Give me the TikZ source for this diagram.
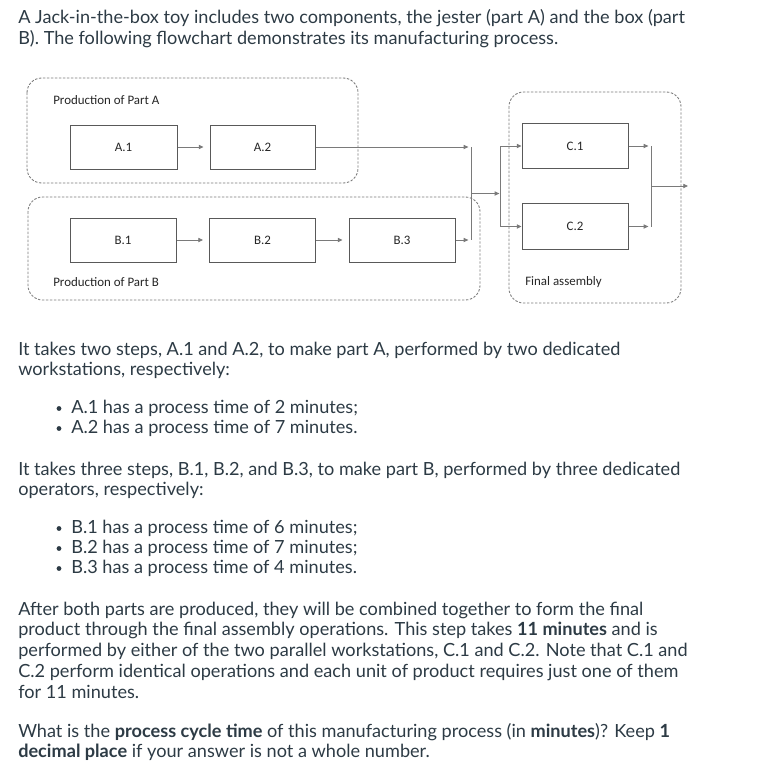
\documentclass[tikz,border=0pt]{standalone}
\usepackage{fontspec}
\setmainfont{Lato}
\newfontfamily\diagfont{Carlito}
\usetikzlibrary{arrows.meta}
\definecolor{txt}{HTML}{2D3B45}
\definecolor{boxline}{HTML}{595959}
\definecolor{conn}{HTML}{7A7A7A}
\definecolor{dtxt}{HTML}{262626}
\begin{document}
\begin{tikzpicture}[x=0.75pt,y=-0.75pt,
  para/.style={anchor=base west,inner sep=0pt,text=txt,font=\fontsize{13.6pt}{16pt}\selectfont},
  bul/.style={circle,fill=txt,inner sep=0pt,minimum size=3.6pt},
  proc/.style={draw=boxline,line width=0.75pt,fill=white,minimum width=79.5pt,minimum height=33pt,inner sep=0pt,font=\diagfont\fontsize{9.7pt}{11pt}\selectfont,text=dtxt},
  grp/.style={draw=conn,line width=0.65pt,dash pattern=on 1.8pt off 1.2pt,rounded corners=11pt},
  glabel/.style={anchor=west,inner sep=0pt,font=\diagfont\fontsize{9.7pt}{11pt}\selectfont,text=dtxt},
  link/.style={draw=conn,line width=0.6pt},
  arr/.style={link,-{Triangle[length=3.5pt,width=3.2pt]}}
]
\useasboundingbox (0,0) rectangle (781,774);
\fill[white] (0,0) rectangle (781,774);

% intro text
\node[para] (t1) at (18,24) {A Jack-in-the-box toy includes two components, the jester (part A) and the box (part};
\node[para] (t2) at (18,45) {B). The following flowchart demonstrates its manufacturing process.};

% groups
\draw[grp] (27,78) rectangle (358,183);
\draw[grp] (28,197) rectangle (480,300);
\draw[grp] (509,92) rectangle (681,303);
\node[glabel] (la) at (53,100) {Production of Part A};
\node[glabel] (lb) at (53,282) {Production of Part B};
\node[glabel] (lc) at (525,282) {Final assembly};

% process boxes
\node[proc,minimum width=80.25pt] (A1) at (123.5,147) {A.1};
\node[proc,minimum width=78.75pt] (A2) at (262.5,147) {A.2};
\node[proc] (B1) at (123,240) {B.1};
\node[proc] (B2) at (262.5,240) {B.2};
\node[proc] (B3) at (402,240) {B.3};
\node[proc,minimum height=34pt] (C1) at (575,146) {C.1};
\node[proc,minimum height=34pt] (C2) at (575,226.5) {C.2};

% junction coordinates
\coordinate (jA) at (471,147);
\coordinate (jB) at (471,240);
\coordinate (jM) at (471,193.5);
\coordinate (kM) at (500,193.5);
\coordinate (k1) at (500,146);
\coordinate (k2) at (500,226.5);
\coordinate (m1) at (651,146);
\coordinate (m2) at (651,226.5);
\coordinate (mM) at (651,186);
\coordinate (out) at (688,186);

% connectors
\draw[arr,shorten >=4.5pt] (A1) -- (A2);
\draw[arr,shorten >=4.5pt] (B1) -- (B2);
\draw[arr,shorten >=4.5pt] (B2) -- (B3);
\draw[arr,shorten >=2pt] (A2) -- (jA);
\draw[arr,shorten >=2pt] (B3) -- (jB);
\draw[link] (jA) -- (jB);
\draw[arr,shorten >=0.5pt] (jM) -- (kM);
\draw[link] (k1) -- (k2);
\draw[arr] (k1) -- (C1);
\draw[arr] (k2) -- (C2);
\draw[arr,shorten >=2pt] (C1) -- (m1);
\draw[arr,shorten >=2pt] (C2) -- (m2);
\draw[link] (m1) -- (m2);
\draw[arr] (mM) -- (out);

% body text
\node[para] (p1) at (18,355) {It takes two steps, A.1 and A.2, to make part A, performed by two dedicated};
\node[para] (p2) at (18,375) {workstations, respectively:};
\node[bul] (d1) at (59,408.5) {};
\node[para] (q1) at (71,413) {A.1 has a process time of 2 minutes;};
\node[bul] (d2) at (59,428.5) {};
\node[para] (q2) at (71,433) {A.2 has a process time of 7 minutes.};

\node[para] (p3) at (18,475) {It takes three steps, B.1, B.2, and B.3, to make part B, performed by three dedicated};
\node[para] (p4) at (18,495) {operators, respectively:};
\node[bul] (d3) at (59,528.5) {};
\node[para] (q3) at (71,533) {B.1 has a process time of 6 minutes;};
\node[bul] (d4) at (59,548.5) {};
\node[para] (q4) at (71,553) {B.2 has a process time of 7 minutes;};
\node[bul] (d5) at (59,568.5) {};
\node[para] (q5) at (71,573) {B.3 has a process time of 4 minutes.};

\node[para] (r1) at (18,615) {After both parts are produced, they will be combined together to form the final};
\node[para] (r2) at (18,635.5) {product through the final assembly operations. This step takes \textbf{11 minutes} and is};
\node[para] (r3) at (18,656) {performed by either of the two parallel workstations, C.1 and C.2. Note that C.1 and};
\node[para] (r4) at (18,677) {C.2 perform identical operations and each unit of product requires just one of them};
\node[para] (r5) at (18,698) {for 11 minutes.};

\node[para] (s1) at (18,737) {What is the \textbf{process cycle time} of this manufacturing process (in \textbf{minutes})? Keep \textbf{1}};
\node[para] (s2) at (18,757) {\textbf{decimal place} if your answer is not a whole number.};
\end{tikzpicture}
\end{document}
